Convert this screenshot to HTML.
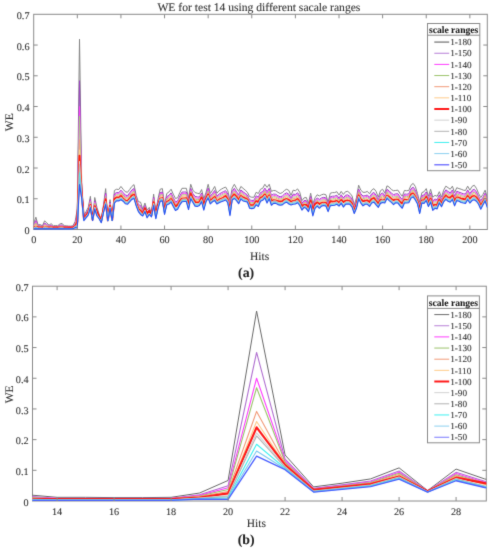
<!DOCTYPE html>
<html><head><meta charset="utf-8"><style>
html,body{margin:0;padding:0;background:#fff;}
svg{display:block;}
text{stroke:#333;stroke-width:0.1px;text-rendering:geometricPrecision;}
</style></head><body>
<svg width="492" height="550" viewBox="0 0 492 550" font-family="'Liberation Serif', 'Times New Roman', serif" fill="#333" stroke-width="0">
<defs><filter id="bl" x="0" y="0" width="492" height="550" filterUnits="userSpaceOnUse" color-interpolation-filters="sRGB"><feConvolveMatrix order="3" kernelMatrix="0.0113 0.0838 0.0113 0.0838 0.6193 0.0838 0.0113 0.0838 0.0113" edgeMode="duplicate"/></filter></defs>
<g filter="url(#bl)">
<rect width="492" height="550" fill="#fff"/>
<text x="258.9" y="10.7" text-anchor="middle" font-size="11.6">WE for test 14 using different sacale ranges</text>
<clipPath id="ca"><rect x="33.7" y="12.3" width="453.6" height="219.2"/></clipPath>
<rect x="33.7" y="14.3" width="453.6" height="215.2" fill="none" stroke="#8a8a8a" stroke-width="1"/>
<g clip-path="url(#ca)" fill="none" stroke-linejoin="round" stroke-linecap="round">
<polyline points="33.70,223.35 35.88,217.20 38.06,224.89 40.24,224.58 42.42,225.81 44.60,220.89 46.78,222.74 48.97,225.20 51.15,223.66 53.33,225.81 55.51,225.50 57.69,225.81 59.87,223.97 62.05,223.35 64.23,225.81 66.41,225.81 68.59,226.12 70.77,226.12 72.95,225.81 75.13,221.51 77.32,208.90 79.50,39.20 81.68,183.39 83.86,215.36 86.04,211.67 88.22,207.37 90.40,196.30 92.58,219.05 94.76,197.53 96.94,207.37 99.12,214.13 101.30,219.66 103.48,204.91 105.67,188.61 107.85,219.66 110.03,199.68 112.21,219.66 114.39,190.46 116.57,189.23 118.75,189.53 120.93,186.46 123.11,189.23 125.29,191.69 127.47,192.30 129.65,189.53 131.83,186.46 134.02,184.62 136.20,195.38 138.38,201.83 140.56,202.14 142.74,209.21 144.92,203.06 147.10,210.13 149.28,207.37 151.46,213.21 153.64,194.15 155.82,212.28 158.00,198.76 160.18,189.23 162.37,188.61 164.55,205.21 166.73,193.53 168.91,191.99 171.09,189.23 173.27,194.15 175.45,198.45 177.63,197.83 179.81,192.61 181.99,188.30 184.17,188.30 186.35,188.30 188.53,197.83 190.72,184.31 192.90,190.15 195.08,192.61 197.26,193.22 199.44,193.84 201.62,189.53 203.80,198.76 205.98,192.61 208.16,184.31 210.34,193.53 212.52,190.15 214.70,186.46 216.88,193.22 219.07,190.76 221.25,189.23 223.43,188.00 225.61,187.07 227.79,190.76 229.97,200.29 232.15,188.30 234.33,184.31 236.51,188.30 238.69,191.38 240.87,186.46 243.05,188.30 245.23,190.15 247.42,192.30 249.60,196.61 251.78,197.22 253.96,197.22 256.14,192.30 258.32,193.53 260.50,189.23 262.68,188.30 264.86,184.31 267.04,187.38 269.22,184.31 271.40,191.38 273.58,190.46 275.77,190.76 277.95,192.30 280.13,193.53 282.31,192.61 284.49,190.46 286.67,189.23 288.85,190.46 291.03,195.38 293.21,190.15 295.39,190.76 297.57,188.92 299.75,192.30 301.93,200.60 304.12,197.83 306.30,197.53 308.48,203.37 310.66,193.22 312.84,203.98 315.02,197.83 317.20,194.76 319.38,195.99 321.56,194.76 323.74,194.15 325.92,194.76 328.10,202.14 330.28,193.22 332.47,192.61 334.65,192.61 336.83,191.69 339.01,195.07 341.19,191.38 343.37,194.45 345.55,191.69 347.73,191.38 349.91,193.22 352.09,195.99 354.27,204.91 356.45,197.83 358.63,185.23 360.82,190.15 363.00,192.30 365.18,192.30 367.36,191.38 369.54,193.84 371.72,190.15 373.90,188.61 376.08,191.38 378.26,197.22 380.44,190.76 382.62,189.23 384.80,193.22 386.98,185.85 389.17,187.07 391.35,189.53 393.53,190.76 395.71,190.46 397.89,190.15 400.07,193.53 402.25,196.30 404.43,190.46 406.61,190.76 408.79,190.46 410.97,185.23 413.15,183.39 415.33,186.46 417.52,193.53 419.70,202.14 421.88,192.61 424.06,191.69 426.24,188.61 428.42,196.30 430.60,189.23 432.78,197.22 434.96,195.38 437.14,196.30 439.32,191.69 441.50,197.22 443.68,190.15 445.87,186.15 448.05,187.69 450.23,189.23 452.41,186.15 454.59,192.61 456.77,187.69 458.95,188.61 461.13,189.23 463.31,190.15 465.49,190.46 467.67,186.15 469.85,190.15 472.03,186.46 474.22,185.23 476.40,188.30 478.58,193.53 480.76,197.53 482.94,194.45 485.12,190.15 487.30,197.53" stroke="#858585" stroke-width="1.0"/>
<polyline points="33.70,224.90 35.88,220.47 38.06,226.01 40.24,225.79 42.42,226.67 44.60,223.13 46.78,224.46 48.97,226.23 51.15,225.12 53.33,226.67 55.51,226.45 57.69,226.67 59.87,225.34 62.05,224.90 64.23,226.67 66.41,226.67 68.59,226.89 70.77,226.89 72.95,226.67 75.13,223.23 77.32,214.24 79.50,80.70 81.68,187.52 83.86,216.82 86.04,213.39 88.22,209.52 90.40,199.48 92.58,219.48 94.76,200.80 96.94,209.78 99.12,215.42 101.30,220.52 103.48,207.06 105.67,193.09 107.85,220.01 110.03,202.18 112.21,219.92 114.39,193.99 116.57,192.50 118.75,192.72 120.93,190.16 123.11,192.58 125.29,195.04 127.47,195.66 129.65,192.98 131.83,190.08 134.02,188.49 136.20,198.30 138.38,204.59 140.56,205.58 142.74,211.10 144.92,205.47 147.10,212.28 149.28,209.34 151.46,214.24 153.64,197.33 155.82,214.09 158.00,201.51 160.18,192.58 162.37,192.06 164.55,207.80 166.73,196.72 168.91,195.35 171.09,192.84 173.27,197.59 175.45,201.81 177.63,201.02 179.81,196.05 181.99,192.09 184.17,192.01 186.35,192.01 188.53,201.11 190.72,188.35 192.90,193.59 195.08,196.40 197.26,196.92 199.44,197.11 201.62,192.98 203.80,201.94 205.98,195.19 208.16,188.18 210.34,196.46 212.52,193.42 214.70,190.42 216.88,196.24 219.07,194.12 221.25,192.76 223.43,191.61 225.61,190.69 227.79,194.12 229.97,204.60 232.15,191.58 234.33,188.27 236.51,191.75 238.69,194.82 240.87,189.99 243.05,191.83 245.23,193.33 247.42,195.06 249.60,199.88 251.78,200.40 253.96,200.32 256.14,195.83 258.32,197.15 260.50,192.58 262.68,191.66 264.86,188.10 267.04,191.77 269.22,188.35 271.40,195.25 273.58,194.07 275.77,194.29 277.95,195.74 280.13,196.80 282.31,196.05 284.49,193.99 286.67,192.84 288.85,194.24 291.03,198.04 293.21,194.11 295.39,194.47 297.57,192.79 299.75,196.00 301.93,203.27 304.12,200.50 306.30,200.63 308.48,205.69 310.66,196.49 312.84,207.34 315.02,200.76 317.20,197.95 319.38,199.43 321.56,197.95 323.74,197.33 325.92,197.95 328.10,204.81 330.28,196.75 332.47,196.22 334.65,196.14 336.83,195.22 339.01,198.17 341.19,194.74 343.37,197.98 345.55,195.22 347.73,194.91 349.91,196.32 352.09,199.09 354.27,207.32 356.45,200.76 358.63,189.02 360.82,193.76 363.00,196.09 365.18,195.66 367.36,194.99 369.54,197.37 371.72,193.76 373.90,192.40 376.08,195.17 378.26,200.06 380.44,194.29 382.62,192.93 384.80,195.98 386.98,189.37 389.17,190.86 391.35,193.15 393.53,194.64 395.71,193.90 397.89,193.76 400.07,196.97 402.25,199.65 404.43,193.99 406.61,194.21 408.79,193.90 410.97,188.85 413.15,187.17 415.33,190.25 417.52,196.46 419.70,205.32 421.88,195.54 424.06,194.96 426.24,191.97 428.42,199.14 430.60,192.84 432.78,200.92 434.96,198.99 437.14,199.83 439.32,194.87 441.50,199.89 443.68,193.42 445.87,189.85 448.05,191.48 450.23,192.84 452.41,189.94 454.59,196.31 456.77,191.31 458.95,192.14 461.13,192.93 463.31,193.76 465.49,194.07 467.67,189.94 469.85,193.76 472.03,190.42 474.22,189.28 476.40,191.92 478.58,196.54 480.76,200.80 482.94,197.38 485.12,193.16 487.30,200.28" stroke="#9840c0" stroke-width="1.0"/>
<polyline points="33.70,225.45 35.88,221.64 38.06,226.41 40.24,226.22 42.42,226.98 44.60,223.93 46.78,225.07 48.97,226.60 51.15,225.64 53.33,226.98 55.51,226.79 57.69,226.98 59.87,225.84 62.05,225.45 64.23,226.98 66.41,226.98 68.59,227.17 70.77,227.17 72.95,226.98 75.13,223.84 77.32,216.15 79.50,106.53 81.68,188.99 83.86,217.34 86.04,214.01 88.22,210.29 90.40,200.62 92.58,219.63 94.76,201.97 96.94,210.64 99.12,215.88 101.30,220.83 103.48,207.83 105.67,194.69 107.85,220.13 110.03,203.07 112.21,220.01 114.39,195.25 116.57,193.67 118.75,193.86 120.93,191.48 123.11,193.78 125.29,196.24 127.47,196.86 129.65,194.21 131.83,191.37 134.02,189.87 136.20,199.35 138.38,205.57 140.56,206.81 142.74,211.78 144.92,206.33 147.10,213.05 149.28,210.05 151.46,214.61 153.64,198.47 155.82,214.74 158.00,202.50 160.18,193.78 162.37,193.28 164.55,208.72 166.73,197.85 168.91,196.55 171.09,194.13 173.27,198.82 175.45,203.01 177.63,202.16 179.81,197.28 181.99,193.44 184.17,193.33 186.35,193.33 188.53,202.27 190.72,189.80 192.90,194.82 195.08,197.75 197.26,198.25 199.44,198.28 201.62,194.21 203.80,203.08 205.98,196.11 208.16,189.57 210.34,197.50 212.52,194.59 214.70,191.83 216.88,197.31 219.07,195.32 221.25,194.02 223.43,192.90 225.61,191.98 227.79,195.32 229.97,206.14 232.15,192.74 234.33,189.68 236.51,192.98 238.69,196.05 240.87,191.25 243.05,193.09 245.23,194.47 247.42,196.04 249.60,201.04 251.78,201.54 253.96,201.43 256.14,197.09 258.32,198.44 260.50,193.78 262.68,192.86 264.86,189.45 267.04,193.34 269.22,189.80 271.40,196.64 273.58,195.36 275.77,195.55 277.95,196.97 280.13,197.97 282.31,197.28 284.49,195.25 286.67,194.13 288.85,195.60 291.03,199.00 293.21,195.52 295.39,195.79 297.57,194.18 299.75,197.32 301.93,204.22 304.12,201.46 306.30,201.73 308.48,206.52 310.66,197.66 312.84,208.54 315.02,201.81 317.20,199.08 319.38,200.66 321.56,199.08 323.74,198.47 325.92,199.08 328.10,205.76 330.28,198.01 332.47,197.52 334.65,197.40 336.83,196.48 339.01,199.27 341.19,195.93 343.37,199.24 345.55,196.48 347.73,196.17 349.91,197.43 352.09,200.20 354.27,208.18 356.45,201.81 358.63,190.37 360.82,195.06 363.00,197.44 365.18,196.86 367.36,196.29 369.54,198.63 371.72,195.06 373.90,193.75 376.08,196.52 378.26,201.08 380.44,195.55 382.62,194.25 384.80,196.96 386.98,190.63 389.17,192.22 391.35,194.44 393.53,196.02 395.71,195.13 397.89,195.06 400.07,198.20 402.25,200.85 404.43,195.25 406.61,195.44 408.79,195.13 410.97,190.14 413.15,188.53 415.33,191.60 417.52,197.50 419.70,206.46 421.88,196.58 424.06,196.13 426.24,193.17 428.42,200.15 430.60,194.13 432.78,202.24 434.96,200.28 437.14,201.09 439.32,196.01 441.50,200.84 443.68,194.59 445.87,191.18 448.05,192.83 450.23,194.13 452.41,191.29 454.59,197.63 456.77,192.60 458.95,193.40 461.13,194.25 463.31,195.06 465.49,195.36 467.67,191.29 469.85,195.06 472.03,191.83 474.22,190.72 476.40,193.21 478.58,197.62 480.76,201.97 482.94,198.43 485.12,194.24 487.30,201.27" stroke="#ff40ff" stroke-width="1.0"/>
<polyline points="33.70,226.01 35.88,222.81 38.06,226.81 40.24,226.65 42.42,227.29 44.60,224.73 46.78,225.69 48.97,226.97 51.15,226.17 53.33,227.29 55.51,227.13 57.69,227.29 59.87,226.33 62.05,226.01 64.23,227.29 66.41,227.29 68.59,227.45 70.77,227.45 72.95,227.29 75.13,224.46 77.32,218.05 79.50,116.06 81.68,190.47 83.86,217.87 86.04,214.62 88.22,211.05 90.40,201.76 92.58,219.79 94.76,203.13 96.94,211.50 99.12,216.34 101.30,221.14 103.48,208.59 105.67,196.29 107.85,220.25 110.03,203.96 112.21,220.10 114.39,196.51 116.57,194.83 118.75,194.99 120.93,192.81 123.11,194.98 125.29,197.44 127.47,198.06 129.65,195.44 131.83,192.66 134.02,191.26 136.20,200.39 138.38,206.55 140.56,208.04 142.74,212.46 144.92,207.19 147.10,213.82 149.28,210.76 151.46,214.98 153.64,199.61 155.82,215.38 158.00,203.48 160.18,194.98 162.37,194.51 164.55,209.64 166.73,198.99 168.91,197.75 171.09,195.42 173.27,200.05 175.45,204.20 177.63,203.29 179.81,198.51 181.99,194.80 184.17,194.65 186.35,194.65 188.53,203.44 190.72,191.24 192.90,196.05 195.08,199.10 197.26,199.57 199.44,199.45 201.62,195.44 203.80,204.22 205.98,197.04 208.16,190.95 210.34,198.55 212.52,195.76 214.70,193.25 216.88,198.39 219.07,196.52 221.25,195.28 223.43,194.19 225.61,193.27 227.79,196.52 229.97,207.67 232.15,193.91 234.33,191.10 236.51,194.21 238.69,197.28 240.87,192.51 243.05,194.35 245.23,195.61 247.42,197.02 249.60,202.21 251.78,202.68 253.96,202.53 256.14,198.35 258.32,199.73 260.50,194.98 262.68,194.06 264.86,190.80 267.04,194.91 269.22,191.24 271.40,198.02 273.58,196.65 275.77,196.81 277.95,198.20 280.13,199.14 282.31,198.51 284.49,196.51 286.67,195.42 288.85,196.95 291.03,199.95 293.21,196.94 295.39,197.11 297.57,195.56 299.75,198.65 301.93,205.18 304.12,202.41 306.30,202.84 308.48,207.35 310.66,198.83 312.84,209.74 315.02,202.85 317.20,200.22 319.38,201.89 321.56,200.22 323.74,199.61 325.92,200.22 328.10,206.71 330.28,199.27 332.47,198.81 334.65,198.66 336.83,197.74 339.01,200.38 341.19,197.13 343.37,200.50 345.55,197.74 347.73,197.43 349.91,198.54 352.09,201.30 354.27,209.04 356.45,202.85 358.63,191.72 360.82,196.35 363.00,198.79 365.18,198.06 367.36,197.58 369.54,199.89 371.72,196.35 373.90,195.10 376.08,197.87 378.26,202.09 380.44,196.81 382.62,195.57 384.80,197.95 386.98,191.90 389.17,193.57 391.35,195.73 393.53,197.40 395.71,196.36 397.89,196.35 400.07,199.43 402.25,202.05 404.43,196.51 406.61,196.67 408.79,196.36 410.97,191.43 413.15,189.88 415.33,192.95 417.52,198.55 419.70,207.60 421.88,197.63 424.06,197.29 426.24,194.37 428.42,201.17 430.60,195.42 432.78,203.57 434.96,201.57 437.14,202.35 439.32,197.15 441.50,201.79 443.68,195.76 445.87,192.50 448.05,194.18 450.23,195.42 452.41,192.65 454.59,198.95 456.77,193.89 458.95,194.66 461.13,195.57 463.31,196.35 465.49,196.65 467.67,192.65 469.85,196.35 472.03,193.25 474.22,192.17 476.40,194.50 478.58,198.70 480.76,203.13 482.94,199.47 485.12,195.31 487.30,202.25" stroke="#a8d080" stroke-width="1.0"/>
<polyline points="33.70,226.56 35.88,223.98 38.06,227.21 40.24,227.08 42.42,227.59 44.60,225.53 46.78,226.30 48.97,227.34 51.15,226.69 53.33,227.59 55.51,227.46 57.69,227.59 59.87,226.82 62.05,226.56 64.23,227.59 66.41,227.59 68.59,227.72 70.77,227.72 72.95,227.59 75.13,225.07 77.32,219.96 79.50,139.73 81.68,191.94 83.86,218.39 86.04,215.24 88.22,211.82 90.40,202.90 92.58,219.94 94.76,204.30 96.94,212.36 99.12,216.80 101.30,221.45 103.48,209.36 105.67,197.88 107.85,220.38 110.03,204.85 112.21,220.20 114.39,197.77 116.57,196.00 118.75,196.13 120.93,194.13 123.11,196.18 125.29,198.64 127.47,199.26 129.65,196.67 131.83,193.95 134.02,192.64 136.20,201.44 138.38,207.54 140.56,209.27 142.74,213.13 144.92,208.05 147.10,214.59 149.28,211.47 151.46,215.35 153.64,200.74 155.82,216.03 158.00,204.46 160.18,196.18 162.37,195.74 164.55,210.56 166.73,200.13 168.91,198.95 171.09,196.72 173.27,201.28 175.45,205.40 177.63,204.43 179.81,199.74 181.99,196.15 184.17,195.97 186.35,195.97 188.53,204.61 190.72,192.69 192.90,197.28 195.08,200.45 197.26,200.89 199.44,200.61 201.62,196.67 203.80,205.35 205.98,197.96 208.16,192.33 210.34,199.59 212.52,196.92 214.70,194.66 216.88,199.46 219.07,197.72 221.25,196.54 223.43,195.49 225.61,194.56 227.79,197.72 229.97,209.21 232.15,195.08 234.33,192.51 236.51,195.44 238.69,198.51 240.87,193.77 243.05,195.62 245.23,196.75 247.42,198.01 249.60,203.38 251.78,203.82 253.96,203.64 256.14,199.61 258.32,201.02 260.50,196.18 262.68,195.26 264.86,192.15 267.04,196.48 269.22,192.69 271.40,199.40 273.58,197.95 275.77,198.07 277.95,199.43 280.13,200.31 282.31,199.74 284.49,197.77 286.67,196.72 288.85,198.30 291.03,200.90 293.21,198.35 295.39,198.43 297.57,196.94 299.75,199.97 301.93,206.13 304.12,203.36 306.30,203.95 308.48,208.18 310.66,200.00 312.84,210.94 315.02,203.90 317.20,201.36 319.38,203.12 321.56,201.36 323.74,200.74 325.92,201.36 328.10,207.67 330.28,200.53 332.47,200.10 334.65,199.92 336.83,199.00 339.01,201.49 341.19,198.33 343.37,201.76 345.55,199.00 347.73,198.69 349.91,199.64 352.09,202.41 354.27,209.90 356.45,203.90 358.63,193.08 360.82,197.64 363.00,200.15 365.18,199.26 367.36,198.87 369.54,201.15 371.72,197.64 373.90,196.46 376.08,199.22 378.26,203.10 380.44,198.07 382.62,196.89 384.80,198.93 386.98,193.16 389.17,194.92 391.35,197.02 393.53,198.79 395.71,197.59 397.89,197.64 400.07,200.66 402.25,203.25 404.43,197.77 406.61,197.90 408.79,197.59 410.97,192.72 413.15,191.23 415.33,194.31 417.52,199.59 419.70,208.74 421.88,198.67 424.06,198.46 426.24,195.57 428.42,202.18 430.60,196.72 432.78,204.89 434.96,202.86 437.14,203.61 439.32,198.28 441.50,202.75 443.68,196.92 445.87,193.82 448.05,195.54 450.23,196.72 452.41,194.00 454.59,200.28 456.77,195.18 458.95,195.92 461.13,196.89 463.31,197.64 465.49,197.95 467.67,194.00 469.85,197.64 472.03,194.66 474.22,193.61 476.40,195.79 478.58,199.77 480.76,204.30 482.94,200.52 485.12,196.39 487.30,203.23" stroke="#f4a080" stroke-width="1.0"/>
<polyline points="33.70,227.00 35.88,224.91 38.06,227.53 40.24,227.42 42.42,227.84 44.60,226.17 46.78,226.79 48.97,227.63 51.15,227.11 53.33,227.84 55.51,227.74 57.69,227.84 59.87,227.21 62.05,227.00 64.23,227.84 66.41,227.84 68.59,227.94 70.77,227.94 72.95,227.84 75.13,225.56 77.32,221.48 79.50,149.88 81.68,193.13 83.86,218.81 86.04,215.73 88.22,212.44 90.40,203.81 92.58,220.06 94.76,205.24 96.94,213.05 99.12,217.17 101.30,221.69 103.48,209.98 105.67,199.16 107.85,220.47 110.03,205.56 112.21,220.27 114.39,198.78 116.57,196.94 118.75,197.04 120.93,195.18 123.11,197.14 125.29,199.60 127.47,200.21 129.65,197.65 131.83,194.98 134.02,193.75 136.20,202.27 138.38,208.32 140.56,210.25 142.74,213.67 144.92,208.74 147.10,215.20 149.28,212.03 151.46,215.64 153.64,201.65 155.82,216.54 158.00,205.25 160.18,197.14 162.37,196.73 164.55,211.30 166.73,201.04 168.91,199.91 171.09,197.75 173.27,202.26 175.45,206.36 177.63,205.34 179.81,200.72 181.99,197.23 184.17,197.03 186.35,197.03 188.53,205.55 190.72,193.84 192.90,198.27 195.08,201.54 197.26,201.95 199.44,201.55 201.62,197.65 203.80,206.26 205.98,198.70 208.16,193.44 210.34,200.43 212.52,197.86 214.70,195.79 216.88,200.33 219.07,198.68 221.25,197.55 223.43,196.52 225.61,195.60 227.79,198.68 229.97,210.44 232.15,196.01 234.33,193.64 236.51,196.42 238.69,199.49 240.87,194.78 243.05,196.62 245.23,197.66 247.42,198.79 249.60,204.32 251.78,204.73 253.96,204.52 256.14,200.62 258.32,202.05 260.50,197.14 262.68,196.22 264.86,193.24 267.04,197.73 269.22,193.84 271.40,200.51 273.58,198.98 275.77,199.08 277.95,200.42 280.13,201.24 282.31,200.72 284.49,198.78 286.67,197.75 288.85,199.38 291.03,201.67 293.21,199.48 295.39,199.49 297.57,198.05 299.75,201.03 301.93,206.89 304.12,204.12 306.30,204.83 308.48,208.85 310.66,200.93 312.84,211.90 315.02,204.73 317.20,202.27 319.38,204.11 321.56,202.27 323.74,201.65 325.92,202.27 328.10,208.43 330.28,201.54 332.47,201.13 334.65,200.93 336.83,200.01 339.01,202.37 341.19,199.29 343.37,202.77 345.55,200.01 347.73,199.70 349.91,200.53 352.09,203.29 354.27,210.59 356.45,204.73 358.63,194.16 360.82,198.67 363.00,201.23 365.18,200.21 367.36,199.90 369.54,202.16 371.72,198.67 373.90,197.54 376.08,200.31 378.26,203.92 380.44,199.08 382.62,197.95 384.80,199.72 386.98,194.16 389.17,196.00 391.35,198.06 393.53,199.89 395.71,198.57 397.89,198.67 400.07,201.65 402.25,204.21 404.43,198.78 406.61,198.88 408.79,198.57 410.97,193.75 413.15,192.31 415.33,195.39 417.52,200.43 419.70,209.65 421.88,199.51 424.06,199.40 426.24,196.53 428.42,202.99 430.60,197.75 432.78,205.94 434.96,203.90 437.14,204.62 439.32,199.19 441.50,203.51 443.68,197.86 445.87,194.88 448.05,196.62 450.23,197.75 452.41,195.08 454.59,201.33 456.77,196.21 458.95,196.93 461.13,197.95 463.31,198.67 465.49,198.98 467.67,195.08 469.85,198.67 472.03,195.79 474.22,194.77 476.40,196.83 478.58,200.63 480.76,205.24 482.94,201.35 485.12,197.25 487.30,204.02" stroke="#ffd090" stroke-width="1.0"/>
<polyline points="33.70,227.50 35.88,226.73 38.06,227.50 40.24,227.50 42.42,227.50 44.60,227.50 46.78,227.50 48.97,227.50 51.15,227.50 53.33,227.50 55.51,227.50 57.69,227.50 59.87,227.50 62.05,227.50 64.23,227.50 66.41,227.50 68.59,227.50 70.77,227.50 72.95,227.50 75.13,226.12 77.32,221.81 79.50,155.72 81.68,193.53 83.86,218.43 86.04,215.67 88.22,212.59 90.40,204.91 92.58,219.66 94.76,206.14 96.94,211.67 99.12,216.59 101.30,220.58 103.48,209.52 105.67,199.37 107.85,220.28 110.03,205.83 112.21,219.97 114.39,199.06 116.57,197.53 118.75,197.83 120.93,195.99 123.11,198.76 125.29,200.60 127.47,201.22 129.65,198.76 131.83,195.68 134.02,194.76 136.20,203.06 138.38,209.21 140.56,210.75 142.74,213.51 144.92,208.29 147.10,213.51 149.28,210.75 151.46,215.05 153.64,202.14 155.82,214.74 158.00,204.91 160.18,198.76 162.37,198.14 164.55,210.13 166.73,202.14 168.91,200.91 171.09,199.06 173.27,202.75 175.45,206.44 177.63,204.91 179.81,201.22 181.99,198.76 184.17,198.45 186.35,198.14 188.53,204.91 190.72,193.53 192.90,198.76 195.08,202.14 197.26,202.45 199.44,202.14 201.62,197.53 203.80,204.91 205.98,198.76 208.16,194.45 210.34,201.52 212.52,198.76 214.70,196.91 216.88,201.83 219.07,199.68 221.25,198.76 223.43,197.53 225.61,195.99 227.79,199.68 229.97,210.13 232.15,196.91 234.33,194.45 236.51,196.91 238.69,199.99 240.87,195.99 243.05,197.53 245.23,198.45 247.42,199.68 249.60,204.91 251.78,205.21 253.96,204.91 256.14,201.22 258.32,202.14 260.50,197.83 262.68,196.91 264.86,194.45 267.04,198.76 269.22,195.38 271.40,201.22 273.58,200.29 275.77,200.60 277.95,201.22 280.13,201.83 282.31,201.22 284.49,199.68 286.67,199.06 288.85,199.99 291.03,202.14 293.21,200.91 295.39,200.60 297.57,199.06 299.75,202.14 301.93,206.14 304.12,204.91 306.30,204.91 308.48,207.98 310.66,200.60 312.84,210.75 315.02,203.98 317.20,202.45 319.38,203.98 321.56,203.06 323.74,202.75 325.92,203.06 328.10,207.37 330.28,201.22 332.47,201.83 334.65,201.52 336.83,200.91 339.01,203.06 341.19,199.99 343.37,202.14 345.55,200.91 347.73,200.60 349.91,201.22 352.09,203.98 354.27,211.05 356.45,204.91 358.63,195.38 360.82,199.68 363.00,201.22 365.18,200.91 367.36,200.60 369.54,202.14 371.72,199.06 373.90,198.14 376.08,201.22 378.26,203.98 380.44,199.99 382.62,199.68 384.80,200.60 386.98,195.68 389.17,196.91 391.35,199.06 393.53,200.29 395.71,199.68 397.89,199.68 400.07,202.14 402.25,203.68 404.43,199.68 406.61,199.99 408.79,200.60 410.97,194.45 413.15,193.53 415.33,196.91 417.52,201.22 419.70,209.21 421.88,200.60 424.06,200.60 426.24,196.91 428.42,203.06 430.60,198.76 432.78,205.83 434.96,204.91 437.14,205.21 439.32,199.68 441.50,203.98 443.68,198.76 445.87,195.68 448.05,197.53 450.23,197.83 452.41,195.68 454.59,200.60 456.77,197.53 458.95,197.83 461.13,198.76 463.31,199.06 465.49,199.68 467.67,195.99 469.85,199.06 472.03,196.61 474.22,195.99 476.40,197.53 478.58,200.91 480.76,205.83 482.94,202.14 485.12,198.76 487.30,204.91" stroke="#ff1a10" stroke-width="2.0"/>
<polyline points="33.70,227.78 35.88,226.55 38.06,228.09 40.24,228.02 42.42,228.27 44.60,227.29 46.78,227.66 48.97,228.15 51.15,227.84 53.33,228.27 55.51,228.21 57.69,228.27 59.87,227.90 62.05,227.78 64.23,228.27 66.41,228.27 68.59,228.33 70.77,228.33 72.95,228.27 75.13,226.43 77.32,224.15 79.50,161.25 81.68,195.19 83.86,219.54 86.04,216.59 88.22,213.51 90.40,205.40 92.58,220.28 94.76,206.87 96.94,214.25 99.12,217.82 101.30,222.12 103.48,211.05 105.67,201.40 107.85,220.65 110.03,206.81 112.21,220.40 114.39,200.54 116.57,198.57 118.75,198.63 120.93,197.04 123.11,198.82 125.29,201.28 127.47,201.89 129.65,199.37 131.83,196.79 134.02,195.68 136.20,203.74 138.38,209.70 140.56,211.98 142.74,214.62 144.92,209.95 147.10,216.28 149.28,213.02 151.46,216.16 153.64,203.25 155.82,217.45 158.00,206.63 160.18,198.82 162.37,198.45 164.55,212.59 166.73,202.63 168.91,201.59 171.09,199.56 173.27,203.98 175.45,208.04 177.63,206.93 179.81,202.45 181.99,199.13 184.17,198.88 186.35,198.88 188.53,207.18 190.72,195.87 192.90,199.99 195.08,203.43 197.26,203.80 199.44,203.18 201.62,199.37 203.80,207.86 205.98,199.99 208.16,195.38 210.34,201.89 212.52,199.49 214.70,197.77 216.88,201.83 219.07,200.36 221.25,199.31 223.43,198.33 225.61,197.40 227.79,200.36 229.97,212.59 232.15,197.65 234.33,195.62 236.51,198.14 238.69,201.22 240.87,196.54 243.05,198.39 245.23,199.25 247.42,200.17 249.60,205.95 251.78,206.32 253.96,206.07 256.14,202.38 258.32,203.86 260.50,198.82 262.68,197.90 264.86,195.13 267.04,199.93 269.22,195.87 271.40,202.45 273.58,200.79 275.77,200.85 277.95,202.14 280.13,202.88 282.31,202.45 284.49,200.54 286.67,199.56 288.85,201.28 291.03,203.00 293.21,201.46 295.39,201.34 297.57,199.99 299.75,202.88 301.93,208.23 304.12,205.46 306.30,206.38 308.48,210.01 310.66,202.57 312.84,213.58 315.02,206.20 317.20,203.86 319.38,205.83 321.56,203.86 323.74,203.25 325.92,203.86 328.10,209.76 330.28,203.31 332.47,202.94 334.65,202.69 336.83,201.77 339.01,203.92 341.19,200.97 343.37,204.54 345.55,201.77 347.73,201.46 349.91,202.08 352.09,204.84 354.27,211.79 356.45,206.20 358.63,196.05 360.82,200.48 363.00,203.12 365.18,201.89 367.36,201.71 369.54,203.92 371.72,200.48 373.90,199.43 376.08,202.20 378.26,205.34 380.44,200.85 382.62,199.80 384.80,201.09 386.98,195.93 389.17,197.90 391.35,199.86 393.53,201.83 395.71,200.29 397.89,200.48 400.07,203.37 402.25,205.89 404.43,200.54 406.61,200.60 408.79,200.29 410.97,195.56 413.15,194.21 415.33,197.28 417.52,201.89 419.70,211.24 421.88,200.97 424.06,201.03 426.24,198.20 428.42,204.41 430.60,199.56 432.78,207.80 434.96,205.71 437.14,206.38 439.32,200.79 441.50,204.84 443.68,199.49 445.87,196.73 448.05,198.51 450.23,199.56 452.41,196.97 454.59,203.18 456.77,198.02 458.95,198.70 461.13,199.80 463.31,200.48 465.49,200.79 467.67,196.97 469.85,200.48 472.03,197.77 474.22,196.79 476.40,198.63 478.58,202.14 480.76,206.87 482.94,202.82 485.12,198.76 487.30,205.40" stroke="#d8d8d8" stroke-width="0.9"/>
<polyline points="33.70,228.06 35.88,227.13 38.06,228.29 40.24,228.24 42.42,228.42 44.60,227.69 46.78,227.96 48.97,228.33 51.15,228.10 53.33,228.42 55.51,228.38 57.69,228.42 59.87,228.15 62.05,228.06 64.23,228.42 66.41,228.42 68.59,228.47 70.77,228.47 72.95,228.42 75.13,226.73 77.32,225.10 79.50,164.33 81.68,195.93 83.86,219.80 86.04,216.90 88.22,213.90 90.40,205.97 92.58,220.35 94.76,207.46 96.94,214.68 99.12,218.05 101.30,222.28 103.48,211.44 105.67,202.20 107.85,220.71 110.03,207.26 112.21,220.45 114.39,201.17 116.57,199.16 118.75,199.20 120.93,197.70 123.11,199.42 125.29,201.88 127.47,202.49 129.65,199.99 131.83,197.44 134.02,196.37 136.20,204.26 138.38,210.19 140.56,212.59 142.74,214.96 144.92,210.38 147.10,216.66 149.28,213.38 151.46,216.34 153.64,203.81 155.82,217.77 158.00,207.12 160.18,199.42 162.37,199.06 164.55,213.05 166.73,203.20 168.91,202.18 171.09,200.20 173.27,204.60 175.45,208.64 177.63,207.50 179.81,203.06 181.99,199.80 184.17,199.54 186.35,199.54 188.53,207.76 190.72,196.59 192.90,200.60 195.08,204.11 197.26,204.46 199.44,203.77 201.62,199.99 203.80,208.43 205.98,200.45 208.16,196.07 210.34,202.42 212.52,200.08 214.70,198.48 216.88,202.37 219.07,200.96 221.25,199.94 223.43,198.97 225.61,198.05 227.79,200.96 229.97,213.36 232.15,198.23 234.33,196.33 236.51,198.76 238.69,201.83 240.87,197.17 243.05,199.02 245.23,199.82 247.42,200.66 249.60,206.54 251.78,206.89 253.96,206.63 256.14,203.02 258.32,204.51 260.50,199.42 262.68,198.50 264.86,195.81 267.04,200.71 269.22,196.59 271.40,203.14 273.58,201.43 275.77,201.48 277.95,202.75 280.13,203.46 282.31,203.06 284.49,201.17 286.67,200.20 288.85,201.95 291.03,203.48 293.21,202.17 295.39,202.00 297.57,200.68 299.75,203.54 301.93,208.70 304.12,205.94 306.30,206.93 308.48,210.42 310.66,203.15 312.84,214.17 315.02,206.72 317.20,204.43 319.38,206.44 321.56,204.43 323.74,203.81 325.92,204.43 328.10,210.24 330.28,203.94 332.47,203.58 334.65,203.32 336.83,202.40 339.01,204.48 341.19,201.57 343.37,205.17 345.55,202.40 347.73,202.09 349.91,202.63 352.09,205.40 354.27,212.22 356.45,206.72 358.63,196.73 360.82,201.12 363.00,203.80 365.18,202.49 367.36,202.35 369.54,204.55 371.72,201.12 373.90,200.11 376.08,202.88 378.26,205.84 380.44,201.48 382.62,200.46 384.80,201.59 386.98,196.56 389.17,198.57 391.35,200.51 393.53,202.52 395.71,200.91 397.89,201.12 400.07,203.98 402.25,206.49 404.43,201.17 406.61,201.22 408.79,200.91 410.97,196.21 413.15,194.88 415.33,197.96 417.52,202.42 419.70,211.81 421.88,201.49 424.06,201.62 426.24,198.80 428.42,204.92 430.60,200.20 432.78,208.46 434.96,206.35 437.14,207.01 439.32,201.35 441.50,205.32 443.68,200.08 445.87,197.39 448.05,199.19 450.23,200.20 452.41,197.65 454.59,203.85 456.77,198.66 458.95,199.33 461.13,200.46 463.31,201.12 465.49,201.43 467.67,197.65 469.85,201.12 472.03,198.48 474.22,197.51 476.40,199.28 478.58,202.68 480.76,207.46 482.94,203.34 485.12,199.30 487.30,205.89" stroke="#b8b8b8" stroke-width="0.9"/>
<polyline points="33.70,228.39 35.88,227.83 38.06,228.53 40.24,228.50 42.42,228.61 44.60,228.17 46.78,228.33 48.97,228.55 51.15,228.41 53.33,228.61 55.51,228.58 57.69,228.61 59.87,228.44 62.05,228.39 64.23,228.61 66.41,228.61 68.59,228.64 70.77,228.64 72.95,228.61 75.13,227.10 77.32,226.25 79.50,172.63 81.68,196.81 83.86,220.11 86.04,217.26 88.22,214.36 90.40,206.65 92.58,220.45 94.76,208.16 96.94,215.20 99.12,218.32 101.30,222.46 103.48,211.90 105.67,203.16 107.85,220.78 110.03,207.79 112.21,220.50 114.39,201.93 116.57,199.86 118.75,199.89 120.93,198.49 123.11,200.14 125.29,202.60 127.47,203.21 129.65,200.72 131.83,198.21 134.02,197.20 136.20,204.89 138.38,210.78 140.56,213.33 142.74,215.36 144.92,210.89 147.10,217.13 149.28,213.80 151.46,216.56 153.64,204.50 155.82,218.16 158.00,207.71 160.18,200.14 162.37,199.80 164.55,213.61 166.73,203.88 168.91,202.90 171.09,200.98 173.27,205.34 175.45,209.36 177.63,208.19 179.81,203.80 181.99,200.61 184.17,200.33 186.35,200.33 188.53,208.47 190.72,197.46 192.90,201.34 195.08,204.92 197.26,205.25 199.44,204.47 201.62,200.72 203.80,209.11 205.98,201.00 208.16,196.90 210.34,203.04 212.52,200.78 214.70,199.33 216.88,203.02 219.07,201.67 221.25,200.70 223.43,199.75 225.61,198.82 227.79,201.67 229.97,214.28 232.15,198.94 234.33,197.18 236.51,199.49 238.69,202.57 240.87,197.93 243.05,199.77 245.23,200.50 247.42,201.25 249.60,207.24 251.78,207.57 253.96,207.29 256.14,203.77 258.32,205.28 260.50,200.14 262.68,199.22 264.86,196.62 267.04,201.65 269.22,197.46 271.40,203.97 273.58,202.21 275.77,202.23 277.95,203.49 280.13,204.16 282.31,203.80 284.49,201.93 286.67,200.98 288.85,202.77 291.03,204.05 293.21,203.02 295.39,202.79 297.57,201.51 299.75,204.33 301.93,209.27 304.12,206.51 306.30,207.60 308.48,210.92 310.66,203.85 312.84,214.89 315.02,207.35 317.20,205.11 319.38,207.18 321.56,205.11 323.74,204.50 325.92,205.11 328.10,210.81 330.28,204.69 332.47,204.36 334.65,204.08 336.83,203.16 339.01,205.14 341.19,202.29 343.37,205.92 345.55,203.16 347.73,202.85 349.91,203.29 352.09,206.06 354.27,212.74 356.45,207.35 358.63,197.54 360.82,201.90 363.00,204.61 365.18,203.21 367.36,203.13 369.54,205.31 371.72,201.90 373.90,200.92 376.08,203.69 378.26,206.45 380.44,202.23 382.62,201.26 384.80,202.18 386.98,197.32 389.17,199.38 391.35,201.28 393.53,203.35 395.71,201.65 397.89,201.90 400.07,204.72 402.25,207.21 404.43,201.93 406.61,201.95 408.79,201.65 410.97,196.98 413.15,195.70 415.33,198.77 417.52,203.04 419.70,212.49 421.88,202.12 424.06,202.32 426.24,199.52 428.42,205.53 430.60,200.98 432.78,209.25 434.96,207.13 437.14,207.77 439.32,202.04 441.50,205.89 443.68,200.78 445.87,198.18 448.05,200.00 450.23,200.98 452.41,198.46 454.59,204.64 456.77,199.44 458.95,200.08 461.13,201.26 463.31,201.90 465.49,202.21 467.67,198.46 469.85,201.90 472.03,199.33 474.22,198.38 476.40,200.05 478.58,203.32 480.76,208.16 482.94,203.96 485.12,199.94 487.30,206.48" stroke="#50e8f0" stroke-width="0.9"/>
<polyline points="33.70,228.64 35.88,228.36 38.06,228.71 40.24,228.69 42.42,228.75 44.60,228.53 46.78,228.61 48.97,228.72 51.15,228.65 53.33,228.75 55.51,228.73 57.69,228.75 59.87,228.66 62.05,228.64 64.23,228.75 66.41,228.75 68.59,228.76 70.77,228.76 72.95,228.75 75.13,227.38 77.32,227.11 79.50,179.39 81.68,197.48 83.86,220.35 86.04,217.54 88.22,214.71 90.40,207.16 92.58,220.52 94.76,208.68 96.94,215.59 99.12,218.53 101.30,222.60 103.48,212.25 105.67,203.88 107.85,220.84 110.03,208.19 112.21,220.54 114.39,202.49 116.57,200.38 118.75,200.40 120.93,199.08 123.11,200.68 125.29,203.14 127.47,203.75 129.65,201.28 131.83,198.79 134.02,197.83 136.20,205.36 138.38,211.23 140.56,213.88 142.74,215.67 144.92,211.28 147.10,217.47 149.28,214.12 151.46,216.73 153.64,205.01 155.82,218.45 158.00,208.15 160.18,200.68 162.37,200.36 164.55,214.02 166.73,204.39 168.91,203.44 171.09,201.56 173.27,205.89 175.45,209.90 177.63,208.70 179.81,204.35 181.99,201.22 184.17,200.93 186.35,200.93 188.53,208.99 190.72,198.11 192.90,201.89 195.08,205.53 197.26,205.85 199.44,204.99 201.62,201.28 203.80,209.62 205.98,201.42 208.16,197.52 210.34,203.51 212.52,201.31 214.70,199.97 216.88,203.50 219.07,202.21 221.25,201.26 223.43,200.33 225.61,199.41 227.79,202.21 229.97,214.97 232.15,199.46 234.33,197.81 236.51,200.05 238.69,203.12 240.87,198.50 243.05,200.34 245.23,201.01 247.42,201.70 249.60,207.76 251.78,208.08 253.96,207.79 256.14,204.34 258.32,205.86 260.50,200.68 262.68,199.75 264.86,197.23 267.04,202.36 269.22,198.11 271.40,204.59 273.58,202.79 275.77,202.80 277.95,204.04 280.13,204.69 282.31,204.35 284.49,202.49 286.67,201.56 288.85,203.37 291.03,204.48 293.21,203.65 295.39,203.39 297.57,202.13 299.75,204.93 301.93,209.70 304.12,206.94 306.30,208.10 308.48,211.30 310.66,204.38 312.84,215.43 315.02,207.82 317.20,205.62 319.38,207.73 321.56,205.62 323.74,205.01 325.92,205.62 328.10,211.24 330.28,205.26 332.47,204.94 334.65,204.65 336.83,203.72 339.01,205.64 341.19,202.83 343.37,206.49 345.55,203.72 347.73,203.42 349.91,203.79 352.09,206.56 354.27,213.13 356.45,207.82 358.63,198.15 360.82,202.48 363.00,205.22 365.18,203.75 367.36,203.71 369.54,205.88 371.72,202.48 373.90,201.53 376.08,204.30 378.26,206.91 380.44,202.80 382.62,201.85 384.80,202.62 386.98,197.88 389.17,199.99 391.35,201.87 393.53,203.98 395.71,202.20 397.89,202.48 400.07,205.27 402.25,207.75 404.43,202.49 406.61,202.51 408.79,202.20 410.97,197.56 413.15,196.30 415.33,199.38 417.52,203.51 419.70,213.00 421.88,202.59 424.06,202.84 426.24,200.06 428.42,205.99 430.60,201.56 432.78,209.84 434.96,207.71 437.14,208.34 439.32,202.55 441.50,206.32 443.68,201.31 445.87,198.78 448.05,200.61 450.23,201.56 452.41,199.07 454.59,205.23 456.77,200.02 458.95,200.65 461.13,201.85 463.31,202.48 465.49,202.79 467.67,199.07 469.85,202.48 472.03,199.97 474.22,199.03 476.40,200.64 478.58,203.81 480.76,208.68 482.94,204.44 485.12,200.42 487.30,206.92" stroke="#70c0f0" stroke-width="0.9"/>
<polyline points="33.70,228.89 35.88,228.89 38.06,228.89 40.24,228.89 42.42,228.89 44.60,228.89 46.78,228.89 48.97,228.89 51.15,228.89 53.33,228.89 55.51,228.89 57.69,228.89 59.87,228.89 62.05,228.89 64.23,228.89 66.41,228.89 68.59,228.89 70.77,228.89 72.95,228.89 75.13,227.66 77.32,227.96 79.50,184.62 81.68,198.14 83.86,220.58 86.04,217.82 88.22,215.05 90.40,207.67 92.58,220.58 94.76,209.21 96.94,215.97 99.12,218.74 101.30,222.74 103.48,212.59 105.67,204.60 107.85,220.89 110.03,208.59 112.21,220.58 114.39,203.06 116.57,200.91 118.75,200.91 120.93,199.68 123.11,201.22 125.29,203.68 127.47,204.29 129.65,201.83 131.83,199.37 134.02,198.45 136.20,205.83 138.38,211.67 140.56,214.44 142.74,215.97 144.92,211.67 147.10,217.82 149.28,214.44 151.46,216.90 153.64,205.52 155.82,218.74 158.00,208.59 160.18,201.22 162.37,200.91 164.55,214.44 166.73,204.91 168.91,203.98 171.09,202.14 173.27,206.44 175.45,210.44 177.63,209.21 179.81,204.91 181.99,201.83 184.17,201.52 186.35,201.52 188.53,209.52 190.72,198.76 192.90,202.45 195.08,206.14 197.26,206.44 199.44,205.52 201.62,201.83 203.80,210.13 205.98,201.83 208.16,198.14 210.34,203.98 212.52,201.83 214.70,200.60 216.88,203.98 219.07,202.75 221.25,201.83 223.43,200.91 225.61,199.99 227.79,202.75 229.97,215.67 232.15,199.99 234.33,198.45 236.51,200.60 238.69,203.68 240.87,199.06 243.05,200.91 245.23,201.52 247.42,202.14 249.60,208.29 251.78,208.59 253.96,208.29 256.14,204.91 258.32,206.44 260.50,201.22 262.68,200.29 264.86,197.83 267.04,203.06 269.22,198.76 271.40,205.21 273.58,203.37 275.77,203.37 277.95,204.60 280.13,205.21 282.31,204.91 284.49,203.06 286.67,202.14 288.85,203.98 291.03,204.91 293.21,204.29 295.39,203.98 297.57,202.75 299.75,205.52 301.93,210.13 304.12,207.37 306.30,208.59 308.48,211.67 310.66,204.91 312.84,215.97 315.02,208.29 317.20,206.14 319.38,208.29 321.56,206.14 323.74,205.52 325.92,206.14 328.10,211.67 330.28,205.83 332.47,205.52 334.65,205.21 336.83,204.29 339.01,206.14 341.19,203.37 343.37,207.06 345.55,204.29 347.73,203.98 349.91,204.29 352.09,207.06 354.27,213.51 356.45,208.29 358.63,198.76 360.82,203.06 363.00,205.83 365.18,204.29 367.36,204.29 369.54,206.44 371.72,203.06 373.90,202.14 376.08,204.91 378.26,207.37 380.44,203.37 382.62,202.45 384.80,203.06 386.98,198.45 389.17,200.60 391.35,202.45 393.53,204.60 395.71,202.75 397.89,203.06 400.07,205.83 402.25,208.29 404.43,203.06 406.61,203.06 408.79,202.75 410.97,198.14 413.15,196.91 415.33,199.99 417.52,203.98 419.70,213.51 421.88,203.06 424.06,203.37 426.24,200.60 428.42,206.44 430.60,202.14 432.78,210.44 434.96,208.29 437.14,208.90 439.32,203.06 441.50,206.75 443.68,201.83 445.87,199.37 448.05,201.22 450.23,202.14 452.41,199.68 454.59,205.83 456.77,200.60 458.95,201.22 461.13,202.45 463.31,203.06 465.49,203.37 467.67,199.68 469.85,203.06 472.03,200.60 474.22,199.68 476.40,201.22 478.58,204.29 480.76,209.21 482.94,204.91 485.12,200.91 487.30,207.37" stroke="#3050f0" stroke-width="1.1"/>
</g>
<path d="M77.32,229.5v-4M77.32,14.3v4M120.93,229.5v-4M120.93,14.3v4M164.55,229.5v-4M164.55,14.3v4M208.16,229.5v-4M208.16,14.3v4M251.78,229.5v-4M251.78,14.3v4M295.39,229.5v-4M295.39,14.3v4M339.01,229.5v-4M339.01,14.3v4M382.62,229.5v-4M382.62,14.3v4M426.24,229.5v-4M426.24,14.3v4M469.85,229.5v-4M469.85,14.3v4M33.7,198.76h4M487.3,198.76h-4M33.7,168.01h4M487.3,168.01h-4M33.7,137.27h4M487.3,137.27h-4M33.7,106.53h4M487.3,106.53h-4M33.7,75.79h4M487.3,75.79h-4M33.7,45.04h4M487.3,45.04h-4" stroke="#8a8a8a" stroke-width="1" fill="none"/>
<text x="33.70" y="242.8" text-anchor="middle" font-size="10.2">0</text>
<text x="77.32" y="242.8" text-anchor="middle" font-size="10.2">20</text>
<text x="120.93" y="242.8" text-anchor="middle" font-size="10.2">40</text>
<text x="164.55" y="242.8" text-anchor="middle" font-size="10.2">60</text>
<text x="208.16" y="242.8" text-anchor="middle" font-size="10.2">80</text>
<text x="251.78" y="242.8" text-anchor="middle" font-size="10.2">100</text>
<text x="295.39" y="242.8" text-anchor="middle" font-size="10.2">120</text>
<text x="339.01" y="242.8" text-anchor="middle" font-size="10.2">140</text>
<text x="382.62" y="242.8" text-anchor="middle" font-size="10.2">160</text>
<text x="426.24" y="242.8" text-anchor="middle" font-size="10.2">180</text>
<text x="469.85" y="242.8" text-anchor="middle" font-size="10.2">200</text>
<text x="29.5" y="234.10" text-anchor="end" font-size="10.2">0</text>
<text x="29.5" y="203.36" text-anchor="end" font-size="10.2">0.1</text>
<text x="29.5" y="172.61" text-anchor="end" font-size="10.2">0.2</text>
<text x="29.5" y="141.87" text-anchor="end" font-size="10.2">0.3</text>
<text x="29.5" y="111.13" text-anchor="end" font-size="10.2">0.4</text>
<text x="29.5" y="80.39" text-anchor="end" font-size="10.2">0.5</text>
<text x="29.5" y="49.64" text-anchor="end" font-size="10.2">0.6</text>
<text x="29.5" y="18.90" text-anchor="end" font-size="10.2">0.7</text>
<text x="259.6" y="259.8" text-anchor="middle" font-size="11.5">Hits</text>
<text x="8.9" y="122.2" text-anchor="middle" font-size="11.5" transform="rotate(-90 8.9 122.2)" dy="0.35em">WE</text>
<text x="246.1" y="276.8" text-anchor="middle" font-size="13.8" font-weight="bold" fill="#222">(a)</text>
<rect x="427.5" y="23.5" width="52.30000000000001" height="147.2" fill="#fff" stroke="#8a8a8a" stroke-width="1"/>
<line x1="427.5" y1="35.2" x2="479.8" y2="35.2" stroke="#8a8a8a" stroke-width="1"/>
<text x="453.65" y="32.80" text-anchor="middle" font-size="9.6" font-weight="bold" fill="#1a1a1a">scale ranges</text>
<line x1="434.3" y1="42.10" x2="449.2" y2="42.10" stroke="#8c8c8c" stroke-width="1.5"/>
<text x="450.2" y="45.30" font-size="9.2">1-180</text>
<line x1="434.3" y1="53.25" x2="449.2" y2="53.25" stroke="#b77fd6" stroke-width="1"/>
<text x="450.2" y="56.45" font-size="9.2">1-150</text>
<line x1="434.3" y1="64.40" x2="449.2" y2="64.40" stroke="#ff3cff" stroke-width="1"/>
<text x="450.2" y="67.60" font-size="9.2">1-140</text>
<line x1="434.3" y1="75.55" x2="449.2" y2="75.55" stroke="#9cc46c" stroke-width="1"/>
<text x="450.2" y="78.75" font-size="9.2">1-130</text>
<line x1="434.3" y1="86.70" x2="449.2" y2="86.70" stroke="#f29a78" stroke-width="1"/>
<text x="450.2" y="89.90" font-size="9.2">1-120</text>
<line x1="434.3" y1="97.85" x2="449.2" y2="97.85" stroke="#ffcc8a" stroke-width="1"/>
<text x="450.2" y="101.05" font-size="9.2">1-110</text>
<line x1="434.3" y1="109.00" x2="449.2" y2="109.00" stroke="#ff1a1a" stroke-width="2"/>
<text x="450.2" y="112.20" font-size="9.2">1-100</text>
<line x1="434.3" y1="120.15" x2="449.2" y2="120.15" stroke="#d2d2d2" stroke-width="1"/>
<text x="450.2" y="123.35" font-size="9.2">1-90</text>
<line x1="434.3" y1="131.30" x2="449.2" y2="131.30" stroke="#b2b2b2" stroke-width="1"/>
<text x="450.2" y="134.50" font-size="9.2">1-80</text>
<line x1="434.3" y1="142.45" x2="449.2" y2="142.45" stroke="#3ef0f0" stroke-width="1"/>
<text x="450.2" y="145.65" font-size="9.2">1-70</text>
<line x1="434.3" y1="153.60" x2="449.2" y2="153.60" stroke="#8cd0f0" stroke-width="1"/>
<text x="450.2" y="156.80" font-size="9.2">1-60</text>
<line x1="434.3" y1="164.75" x2="449.2" y2="164.75" stroke="#7a7aff" stroke-width="1.5"/>
<text x="450.2" y="167.95" font-size="9.2">1-50</text>
<clipPath id="cb"><rect x="32.5" y="284.2" width="453.8" height="218.8"/></clipPath>
<rect x="32.5" y="286.2" width="453.8" height="214.8" fill="none" stroke="#8a8a8a" stroke-width="1"/>
<g clip-path="url(#cb)" fill="none" stroke-linejoin="round" stroke-linecap="round">
<polyline points="28.60,494.86 57.10,497.32 85.59,497.32 114.09,497.62 142.59,497.62 171.09,497.32 199.59,493.02 228.09,480.44 256.59,311.06 285.09,454.97 313.59,486.88 342.09,483.20 370.59,478.91 399.09,467.86 427.59,490.57 456.09,469.09 484.59,478.91 513.09,485.66" stroke="#6a6a6a" stroke-width="1.0"/>
<polyline points="28.60,496.41 57.10,498.18 85.59,498.18 114.09,498.40 142.59,498.40 171.09,498.18 199.59,494.74 228.09,485.77 256.59,352.48 285.09,459.10 313.59,488.35 342.09,484.92 370.59,481.05 399.09,471.04 427.59,491.00 456.09,472.35 484.59,481.31 513.09,486.95" stroke="#b070d0" stroke-width="1.1"/>
<polyline points="28.60,496.96 57.10,498.48 85.59,498.48 114.09,498.67 142.59,498.67 171.09,498.48 199.59,495.35 228.09,487.67 256.59,378.26 285.09,460.57 313.59,488.87 342.09,485.53 370.59,481.82 399.09,472.17 427.59,491.15 456.09,473.52 484.59,482.17 513.09,487.41" stroke="#ff3cff" stroke-width="1.1"/>
<polyline points="28.60,497.51 57.10,498.79 85.59,498.79 114.09,498.95 142.59,498.95 171.09,498.79 199.59,495.97 228.09,489.57 256.59,387.77 285.09,462.04 313.59,489.39 342.09,486.15 370.59,482.59 399.09,473.31 427.59,491.30 456.09,474.68 484.59,483.03 513.09,487.87" stroke="#9cc46c" stroke-width="1.1"/>
<polyline points="28.60,498.07 57.10,499.10 85.59,499.10 114.09,499.23 142.59,499.23 171.09,499.10 199.59,496.58 228.09,491.48 256.59,411.40 285.09,463.51 313.59,489.91 342.09,486.76 370.59,483.36 399.09,474.44 427.59,491.46 456.09,475.85 484.59,483.89 513.09,488.33" stroke="#f29a78" stroke-width="1.1"/>
<polyline points="28.60,498.51 57.10,499.34 85.59,499.34 114.09,499.45 142.59,499.45 171.09,499.34 199.59,497.07 228.09,493.00 256.59,421.52 285.09,464.69 313.59,490.33 342.09,487.25 370.59,483.97 399.09,475.35 427.59,491.58 456.09,476.78 484.59,484.58 513.09,488.70" stroke="#ffcc8a" stroke-width="1.1"/>
<polyline points="28.60,499.01 57.10,499.01 85.59,499.01 114.09,499.01 142.59,499.01 171.09,499.01 199.59,497.62 228.09,493.33 256.59,427.35 285.09,465.10 313.59,489.95 342.09,487.19 370.59,484.12 399.09,476.45 427.59,491.18 456.09,477.68 484.59,483.20 513.09,488.11" stroke="#ff1a1a" stroke-width="2.2"/>
<polyline points="28.60,499.28 57.10,499.77 85.59,499.77 114.09,499.83 142.59,499.83 171.09,499.77 199.59,497.93 228.09,495.66 256.59,432.88 285.09,466.75 313.59,491.06 342.09,488.11 370.59,485.04 399.09,476.94 427.59,491.79 456.09,478.42 484.59,485.78 513.09,489.34" stroke="#d2d2d2" stroke-width="1.1"/>
<polyline points="28.60,499.56 57.10,499.93 85.59,499.93 114.09,499.97 142.59,499.97 171.09,499.93 199.59,498.24 228.09,496.61 256.59,435.95 285.09,467.49 313.59,491.32 342.09,488.42 370.59,485.43 399.09,477.51 427.59,491.87 456.09,479.00 484.59,486.21 513.09,489.57" stroke="#b2b2b2" stroke-width="1.1"/>
<polyline points="28.60,499.89 57.10,500.11 85.59,500.11 114.09,500.14 142.59,500.14 171.09,500.11 199.59,498.61 228.09,497.75 256.59,444.23 285.09,468.37 313.59,491.63 342.09,488.79 370.59,485.89 399.09,478.19 427.59,491.96 456.09,479.70 484.59,486.73 513.09,489.85" stroke="#3ef0f0" stroke-width="1.1"/>
<polyline points="28.60,500.14 57.10,500.25 85.59,500.25 114.09,500.26 142.59,500.26 171.09,500.25 199.59,498.88 228.09,498.61 256.59,450.98 285.09,469.04 313.59,491.87 342.09,489.06 370.59,486.23 399.09,478.70 427.59,492.03 456.09,480.22 484.59,487.11 513.09,490.05" stroke="#7cc8f0" stroke-width="1.1"/>
<polyline points="28.60,500.39 57.10,500.39 85.59,500.39 114.09,500.39 142.59,500.39 171.09,500.39 199.59,499.16 228.09,499.47 256.59,456.20 285.09,469.70 313.59,492.10 342.09,489.34 370.59,486.58 399.09,479.21 427.59,492.10 456.09,480.75 484.59,487.50 513.09,490.26" stroke="#4a60ff" stroke-width="1.3"/>
</g>
<path d="M57.10,501.0v-4M57.10,286.2v4M114.09,501.0v-4M114.09,286.2v4M171.09,501.0v-4M171.09,286.2v4M228.09,501.0v-4M228.09,286.2v4M285.09,501.0v-4M285.09,286.2v4M342.09,501.0v-4M342.09,286.2v4M399.09,501.0v-4M399.09,286.2v4M456.09,501.0v-4M456.09,286.2v4M32.5,470.31h4M486.3,470.31h-4M32.5,439.63h4M486.3,439.63h-4M32.5,408.94h4M486.3,408.94h-4M32.5,378.26h4M486.3,378.26h-4M32.5,347.57h4M486.3,347.57h-4M32.5,316.89h4M486.3,316.89h-4" stroke="#8a8a8a" stroke-width="1" fill="none"/>
<text x="57.10" y="514.5" text-anchor="middle" font-size="10.2">14</text>
<text x="114.09" y="514.5" text-anchor="middle" font-size="10.2">16</text>
<text x="171.09" y="514.5" text-anchor="middle" font-size="10.2">18</text>
<text x="228.09" y="514.5" text-anchor="middle" font-size="10.2">20</text>
<text x="285.09" y="514.5" text-anchor="middle" font-size="10.2">22</text>
<text x="342.09" y="514.5" text-anchor="middle" font-size="10.2">24</text>
<text x="399.09" y="514.5" text-anchor="middle" font-size="10.2">26</text>
<text x="456.09" y="514.5" text-anchor="middle" font-size="10.2">28</text>
<text x="28.6" y="505.60" text-anchor="end" font-size="10.2">0</text>
<text x="28.6" y="474.91" text-anchor="end" font-size="10.2">0.1</text>
<text x="28.6" y="444.23" text-anchor="end" font-size="10.2">0.2</text>
<text x="28.6" y="413.54" text-anchor="end" font-size="10.2">0.3</text>
<text x="28.6" y="382.86" text-anchor="end" font-size="10.2">0.4</text>
<text x="28.6" y="352.17" text-anchor="end" font-size="10.2">0.5</text>
<text x="28.6" y="321.49" text-anchor="end" font-size="10.2">0.6</text>
<text x="28.6" y="290.80" text-anchor="end" font-size="10.2">0.7</text>
<text x="256.4" y="526.7" text-anchor="middle" font-size="11.5">Hits</text>
<text x="8.8" y="394.3" text-anchor="middle" font-size="11.5" transform="rotate(-90 8.8 394.3)" dy="0.35em">WE</text>
<text x="246.2" y="543.8" text-anchor="middle" font-size="13.8" font-weight="bold" fill="#222">(b)</text>
<rect x="427.5" y="295.9" width="51.89999999999998" height="146.90000000000003" fill="#fff" stroke="#8a8a8a" stroke-width="1"/>
<line x1="427.5" y1="308.4" x2="479.4" y2="308.4" stroke="#8a8a8a" stroke-width="1"/>
<text x="453.45" y="306.00" text-anchor="middle" font-size="9.6" font-weight="bold" fill="#1a1a1a">scale ranges</text>
<line x1="434.3" y1="314.60" x2="449.2" y2="314.60" stroke="#6a6a6a" stroke-width="1"/>
<text x="450.2" y="317.80" font-size="9.2">1-180</text>
<line x1="434.3" y1="325.75" x2="449.2" y2="325.75" stroke="#b77fd6" stroke-width="1"/>
<text x="450.2" y="328.95" font-size="9.2">1-150</text>
<line x1="434.3" y1="336.90" x2="449.2" y2="336.90" stroke="#ff3cff" stroke-width="1"/>
<text x="450.2" y="340.10" font-size="9.2">1-140</text>
<line x1="434.3" y1="348.05" x2="449.2" y2="348.05" stroke="#9cc46c" stroke-width="1"/>
<text x="450.2" y="351.25" font-size="9.2">1-130</text>
<line x1="434.3" y1="359.20" x2="449.2" y2="359.20" stroke="#f29a78" stroke-width="1"/>
<text x="450.2" y="362.40" font-size="9.2">1-120</text>
<line x1="434.3" y1="370.35" x2="449.2" y2="370.35" stroke="#ffcc8a" stroke-width="1"/>
<text x="450.2" y="373.55" font-size="9.2">1-110</text>
<line x1="434.3" y1="381.50" x2="449.2" y2="381.50" stroke="#ff1a1a" stroke-width="2"/>
<text x="450.2" y="384.70" font-size="9.2">1-100</text>
<line x1="434.3" y1="392.65" x2="449.2" y2="392.65" stroke="#d2d2d2" stroke-width="1"/>
<text x="450.2" y="395.85" font-size="9.2">1-90</text>
<line x1="434.3" y1="403.80" x2="449.2" y2="403.80" stroke="#b2b2b2" stroke-width="1"/>
<text x="450.2" y="407.00" font-size="9.2">1-80</text>
<line x1="434.3" y1="414.95" x2="449.2" y2="414.95" stroke="#3ef0f0" stroke-width="1"/>
<text x="450.2" y="418.15" font-size="9.2">1-70</text>
<line x1="434.3" y1="426.10" x2="449.2" y2="426.10" stroke="#8cd0f0" stroke-width="1"/>
<text x="450.2" y="429.30" font-size="9.2">1-60</text>
<line x1="434.3" y1="437.25" x2="449.2" y2="437.25" stroke="#7a7aff" stroke-width="1"/>
<text x="450.2" y="440.45" font-size="9.2">1-50</text>
</g>
</svg>
</body></html>
